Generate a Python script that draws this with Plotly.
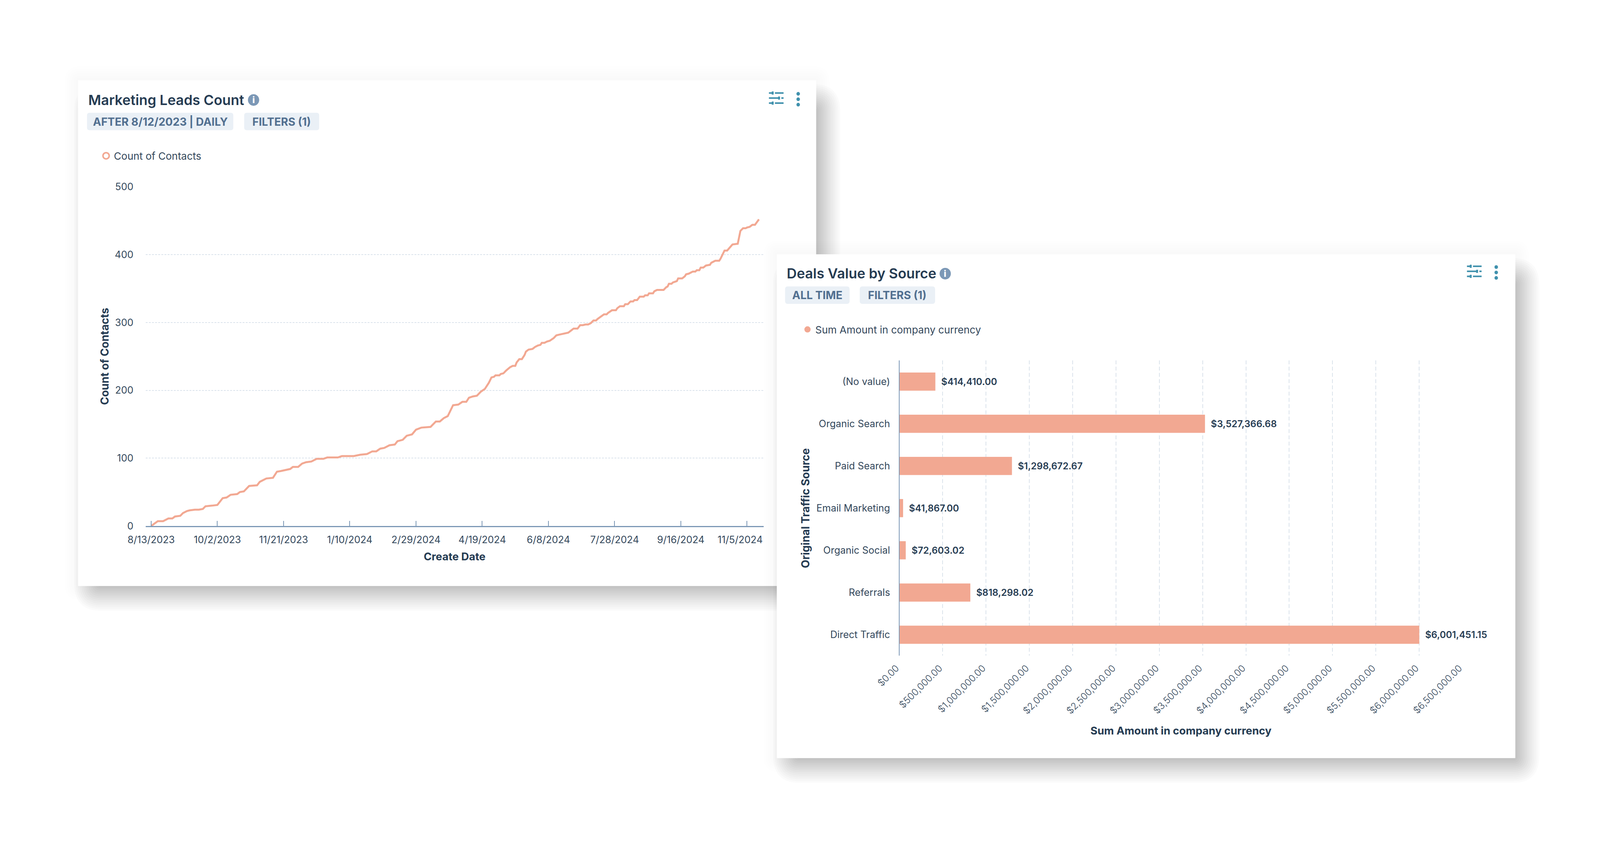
import pandas as pd
import plotly.graph_objects as go

W = 4249
H = 2164

# Chart 1: daily marketing leads (days after 8/13/2023, count)
lead_days = [0, 5, 9, 11, 13, 16, 18, 22, 24, 27, 29, 33, 36, 39, 41, 46, 50, 52, 54, 57, 60, 65, 67, 70, 74,
             80, 82, 84, 87, 92, 95, 98, 102, 105, 107, 111, 114, 117, 121, 125, 130, 133, 141, 144, 153, 155,
             158, 163, 167, 170, 173, 176, 180, 184, 186, 190, 193, 197, 200, 204, 211, 215, 218, 221, 224,
             228, 232, 235, 238, 240, 243, 246, 249, 252, 255, 257, 259, 260, 263, 264, 266, 268, 271, 273,
             275, 276, 278, 280, 282, 283, 285, 288, 290, 292, 294, 295, 297, 299, 301, 304, 306, 308, 310,
             312, 315, 317, 319, 322, 324, 326, 328, 330, 332, 334, 336, 337, 340, 342, 344, 345, 348, 351,
             352, 354, 357, 358, 360, 362, 364, 365, 367, 369, 372, 373, 375, 376, 379, 380, 382, 387, 389,
             390, 391, 393, 394, 397, 398, 401, 403, 404, 406, 409, 411, 412, 414, 415, 417, 419, 422, 423,
             426, 429, 430, 433, 435, 439, 443, 445, 447, 449, 450, 452, 454, 456, 459]
lead_counts = [0, 7, 7, 9, 11, 11, 14, 15, 19, 22, 23, 24, 24, 25, 29, 30, 31, 36, 41, 42, 46, 47, 50, 51, 59,
               60, 65, 67, 70, 71, 80, 81, 83, 84, 87, 87, 92, 94, 95, 99, 99, 101, 101, 103, 103, 104,
               105, 106, 110, 110, 114, 115, 119, 120, 125, 127, 133, 135, 142, 145, 146, 154, 154, 159, 162,
               178, 179, 183, 183, 189, 191, 192, 198, 202, 211, 219, 220, 222, 222, 224, 225, 229, 234, 236,
               236, 241, 246, 246, 252, 257, 260, 261, 264, 266, 267, 270, 270, 272, 273, 277, 281, 282, 283,
               284, 285, 288, 291, 291, 296, 296, 297, 297, 299, 303, 303, 305, 309, 312, 312, 314, 318, 318,
               321, 324, 324, 327, 327, 331, 331, 333, 333, 338, 338, 340, 340, 343, 343, 346, 348, 348, 352,
               353, 357, 357, 359, 361, 365, 365, 368, 371, 372, 375, 375, 377, 377, 381, 381, 384, 385, 388,
               391, 391, 394, 406, 406, 415, 416, 435, 439, 439, 440, 441, 444, 444, 452]
lead_tick_dates = ["2023-08-13", "2023-10-02", "2023-11-21", "2024-01-10", "2024-02-29",
                   "2024-04-19", "2024-06-08", "2024-07-28", "2024-09-16", "2024-11-05"]
lead_tick_labels = ["8/13/2023", "10/2/2023", "11/21/2023", "1/10/2024", "2/29/2024",
                    "4/19/2024", "6/8/2024", "7/28/2024", "9/16/2024", "11/5/2024\u00a0\u00a0\u00a0\u00a0\u00a0"]
lead_y_ticks = [0, 100, 200, 300, 400, 500]

# Chart 2: deal value per source
sources = ["(No value)", "Organic Search", "Paid Search", "Email Marketing",
           "Organic Social", "Referrals", "Direct Traffic"]
deal_values = [414410.00, 3527366.68, 1298672.67, 41867.00, 72603.02, 818298.02, 6001451.15]
deal_ticks = [0, 500000, 1000000, 1500000, 2000000, 2500000, 3000000, 3500000,
              4000000, 4500000, 5000000, 5500000, 6000000, 6500000]

FONT = "Inter"
DARK = "#253b52"
TEXT = "#33475b"
CHIP_TEXT = "#516f90"
AXIS = "#7c98b6"
GRID = "#dbe3ec"
SALMON = "#f2a892"
TEAL = "#4091ad"


def px(x):
    return x / W


def py(y):
    return 1 - y / H


lead_dates = [pd.Timestamp("2023-08-13") + pd.Timedelta(days=d) for d in lead_days]

fig = go.Figure()
fig.add_trace(go.Scatter(x=lead_dates, y=lead_counts, mode="lines", line=dict(color=SALMON, width=5),
                         showlegend=False, xaxis="x", yaxis="y", hoverinfo="skip"))
# legend-only entries, the swatches in the reference are circles
fig.add_trace(go.Scatter(x=[None], y=[None], mode="markers", name="Count of Contacts",
                         marker=dict(symbol="circle-open", color=SALMON, size=17, line=dict(width=4, color=SALMON)),
                         xaxis="x", yaxis="y", legend="legend"))
fig.add_trace(go.Bar(x=deal_values, y=sources, orientation="h", marker=dict(color=SALMON, line=dict(width=0)),
                     text=["\u00a0\u00a0${:,.2f}".format(v) for v in deal_values], textposition="outside",
                     cliponaxis=False, textfont=dict(family=FONT, size=24, color=DARK, weight=600), width=0.43,
                     showlegend=False, xaxis="x2", yaxis="y2"))
fig.add_trace(go.Scatter(x=[None], y=[None], mode="markers", name="Sum Amount in company currency",
                         marker=dict(symbol="circle", color=SALMON, size=20),
                         xaxis="x2", yaxis="y2", legend="legend2"))

shapes = []
notes = []


def round_path(x0, y0, x1, y1, r):
    x0, x1 = px(x0), px(x1)
    y0, y1 = py(y0), py(y1)
    rx, ry = r / W, r / H
    return (f"M{x0 + rx},{y0} L{x1 - rx},{y0} Q{x1},{y0} {x1},{y0 - ry} L{x1},{y1 + ry} Q{x1},{y1} {x1 - rx},{y1} "
            f"L{x0 + rx},{y1} Q{x0},{y1} {x0},{y1 + ry} L{x0},{y0 - ry} Q{x0},{y0} {x0 + rx},{y0} Z")


def box(x0, y0, x1, y1, r, fill):
    shapes.append(dict(type="path", path=round_path(x0, y0, x1, y1, r), xref="paper", yref="paper",
                       fillcolor=fill, line=dict(width=0), layer="below"))


def seg(x0, y0, x1, y1, width, color=TEAL):
    shapes.append(dict(type="line", x0=px(x0), y0=py(y0), x1=px(x1), y1=py(y1), xref="paper", yref="paper",
                       line=dict(color=color, width=width), layer="below"))


def dot(x, y, r, color):
    shapes.append(dict(type="circle", x0=px(x - r), y0=py(y - r), x1=px(x + r), y1=py(y + r), xref="paper",
                       yref="paper", fillcolor=color, line=dict(width=0), layer="below"))


def label(x, y, text, size, color=DARK, anchor="left", weight=400):
    notes.append(dict(x=px(x), y=py(y), xref="paper", yref="paper", text=text, showarrow=False, xanchor=anchor,
                      yanchor="middle", font=dict(family=FONT, size=size, color=color, weight=weight)))


def card(x0, y0, x1, y1):
    # soft halo then the offset drop shadow, stacked see-through layers
    for i in range(6):
        g = 36 - i * 6
        box(x0 - g, y0 - g, x1 + g, y1 + g, g + 4, "rgba(0,0,0,0.004)")
    steps = 18
    for i in range(steps):
        g = 40 - i * 80 / (steps - 1)
        box(x0 + 30 - g, y0 + 50 - g, x1 + 24 + g, y1 + 24 + g, max(g + 30, 2), "rgba(0,0,0,0.0145)")
    box(x0, y0, x1, y1, 1, "#ffffff")


def header(x, y, title, info_x, chips):
    label(x, y, title, 35.5, weight=600)
    dot(info_x, y, 15, AXIS)
    label(info_x, y, "i", 23, color="#ffffff", anchor="center", weight=800)
    for c in chips:
        box(c[0], y + 33, c[1], y + 78, 7, "#eaf0f6")
        label((c[0] + c[1]) / 2, y + 56, c[2], 28, color=CHIP_TEXT, anchor="center", weight=700)


def menu(x, y):
    for dy, knob in [(0, 10), (13, 27), (26, 10)]:
        seg(x, y + dy, x + knob, y + dy, 4)
        seg(x + knob, y + dy - 4, x + knob, y + dy + 4, 5)
        seg(x + knob + 6, y + dy, x + 39, y + dy, 4)
    dot(x + 78, y + 2, 4.7, TEAL)
    dot(x + 78, y + 16, 4.7, TEAL)
    dot(x + 78, y + 30, 4.7, TEAL)


card(208, 207, 2176, 1512)
header(233, 258, "Marketing Leads Count", 676,
       [(232, 622, "AFTER 8/12/2023 | DAILY"), (651, 851, "FILTERS (1)")])
menu(2050, 240)

card(2071, 656, 4040, 1956)
header(2095, 706, "Deals Value by Source", 2520,
       [(2093, 2265, "ALL TIME"), (2292, 2493, "FILTERS (1)")])
menu(3911, 687)

tick_font = dict(family=FONT, size=25, color=TEXT)
x_title_font = dict(family=FONT, size=27.5, color=DARK, weight=700)
y_title_font = dict(family=FONT, size=28, color=DARK, weight=700)
legend_font = dict(family=FONT, size=26, color=TEXT)

fig.update_layout(
    margin=dict(l=0, r=0, t=0, b=0, autoexpand=False),
    paper_bgcolor="#ffffff", plot_bgcolor="rgba(0,0,0,0)",
    font=dict(family=FONT, color=TEXT), shapes=shapes, annotations=notes, barmode="overlay",
    xaxis=dict(domain=[px(388), px(2036)], anchor="y", type="date",
               range=["2023-08-08 18:00", "2024-11-17 14:00"],
               tickmode="array", tickvals=lead_tick_dates, ticktext=lead_tick_labels, tickfont=tick_font,
               ticks="inside", ticklen=13, tickwidth=2, tickcolor=AXIS, showgrid=False, zeroline=False,
               showline=True, linecolor=AXIS, linewidth=3, ticklabelstandoff=11,
               title=dict(text="Create Date", font=x_title_font, standoff=20)),
    yaxis=dict(domain=[py(1357), py(482)], anchor="x", range=[0, 500], tickmode="array", tickvals=lead_y_ticks,
               tickfont=tick_font, ticks="", showgrid=True, gridcolor=GRID, gridwidth=2, griddash="5px,3px",
               zeroline=False, showline=False, ticklabelstandoff=30,
               title=dict(text="Count of Contacts", font=y_title_font, standoff=7)),
    xaxis2=dict(domain=[px(2398), px(3899)], anchor="y2", range=[0, 6500000], tickmode="array", tickvals=deal_ticks,
                tickformat="$,.2f", tickangle=-45, tickfont=dict(family=FONT, size=24, color=TEXT, weight=300),
                ticks="", showgrid=True, gridcolor=GRID, gridwidth=2, griddash="10px,6px", zeroline=False,
                showline=False, ticklabelstandoff=12, ticklabelshift=-8,
                title=dict(text="Sum Amount in company currency", font=x_title_font, standoff=28)),
    yaxis2=dict(domain=[py(1692), py(930)], anchor="x2", type="category", categoryorder="array",
                categoryarray=sources, range=[6.5, -0.5], tickfont=tick_font, ticks="", showgrid=False,
                zeroline=False, showline=True, linecolor=AXIS, linewidth=2, ticklabelstandoff=17,
                title=dict(text="Original Traffic Source", font=y_title_font, standoff=9)),
    legend=dict(x=px(262), y=py(402), xanchor="left", yanchor="middle", bgcolor="rgba(0,0,0,0)", font=legend_font),
    legend2=dict(x=px(2132), y=py(850), xanchor="left", yanchor="middle", bgcolor="rgba(0,0,0,0)", font=legend_font),
)

# fill the window instead of a fixed pixel size, the photographed page can be narrower than asked
fig.write_html("out.html", post_script="document.body.style.margin='0';", config={"displayModeBar": False})
